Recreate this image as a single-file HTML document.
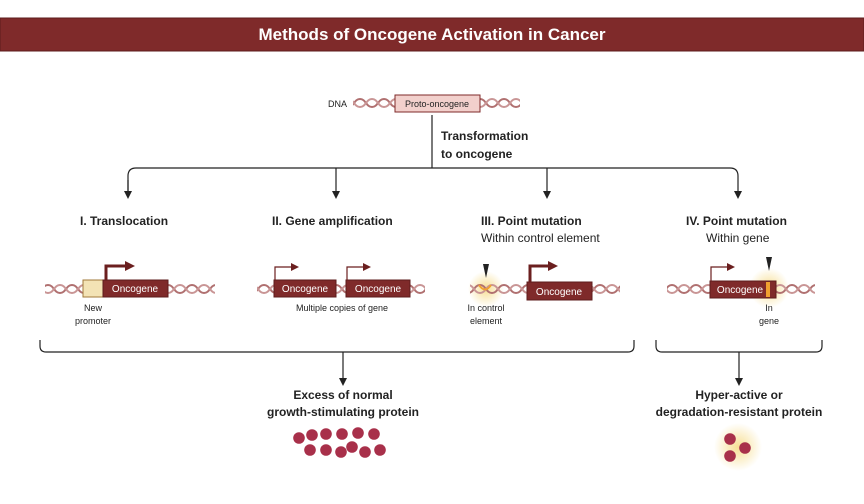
<!DOCTYPE html>
<html><head><meta charset="utf-8"><style>body{margin:0;background:#fff}svg{display:block}text{font-family:"Liberation Sans",sans-serif}</style></head><body>
<svg width="864" height="504" viewBox="0 0 864 504" xmlns="http://www.w3.org/2000/svg">
<defs>
<radialGradient id="g"><stop offset="0" stop-color="#f5d77a" stop-opacity=".8"/><stop offset="1" stop-color="#f5d77a" stop-opacity="0"/></radialGradient>
<marker id="a" markerWidth="8" markerHeight="8" refX="4" refY="4" orient="auto" markerUnits="userSpaceOnUse"><path d="M0,0L8,4L0,8z" fill="#222"/></marker>
<pattern id="dna" width="24" height="14" patternUnits="userSpaceOnUse" x="0" y="0">
<path d="M0,3 C6,3 6,11 12,11 C18,11 18,3 24,3" fill="none" stroke="#b07070" stroke-width="2"/>
<path d="M0,11 C6,11 6,3 12,3 C18,3 18,11 24,11" fill="none" stroke="#c99595" stroke-width="2"/>
</pattern>
</defs>
<rect x="0" y="18" width="864" height="33" fill="#7f2a2a" stroke="#5e1c1c"/>
<text x="432" y="40" text-anchor="middle" fill="#fff" font-size="17" font-weight="bold">Methods of Oncogene Activation in Cancer</text>

<text x="328" y="107" font-size="9" fill="#222">DNA</text>
<g transform="translate(0,96)"><rect x="353" y="0" width="167" height="14" fill="url(#dna)"/></g>
<rect x="395" y="95" width="85" height="17" fill="#f2d0cc" stroke="#7f2a2a"/>
<text x="437" y="107" text-anchor="middle" font-size="9" fill="#222">Proto-oncogene</text>

<g stroke="#222" stroke-width="1.2" fill="none">
<line x1="432" y1="115" x2="432" y2="168"/>
<path d="M128,195V176Q128,168 136,168H730Q738,168 738,176V195" marker-end="url(#a)"/>
<line x1="128" y1="180" x2="128" y2="195" marker-end="url(#a)"/>
<line x1="336" y1="168" x2="336" y2="195" marker-end="url(#a)"/>
<line x1="547" y1="168" x2="547" y2="195" marker-end="url(#a)"/>
<path d="M40,340V346Q40,352 46,352H628Q634,352 634,346V340"/>
<line x1="343" y1="352" x2="343" y2="382" marker-end="url(#a)"/>
<path d="M656,340V346Q656,352 662,352H816Q822,352 822,346V340"/>
<line x1="739" y1="352" x2="739" y2="382" marker-end="url(#a)"/>
</g>
<text x="441" y="140" font-size="12" font-weight="bold" fill="#222">Transformation</text>
<text x="441" y="158" font-size="12" font-weight="bold" fill="#222">to oncogene</text>

<g font-size="12" fill="#222">
<text x="80" y="225" font-weight="bold">I.  Translocation</text>
<text x="272" y="225" font-weight="bold">II.  Gene amplification</text>
<text x="481" y="225" font-weight="bold">III.  Point mutation</text>
<text x="481" y="242">Within control element</text>
<text x="686" y="225" font-weight="bold">IV.  Point mutation</text>
<text x="706" y="242">Within gene</text>
</g>

<circle cx="486" cy="289" r="18" fill="url(#g)"/>
<circle cx="769" cy="288" r="20" fill="url(#g)"/>
<circle cx="738" cy="447" r="24" fill="url(#g)"/>

<g transform="translate(0,282)"><rect x="45" y="0" width="170" height="14" fill="url(#dna)"/><rect x="257" y="0" width="168" height="14" fill="url(#dna)"/><rect x="470" y="1" width="150" height="14" fill="url(#dna)"/><rect x="667" y="0" width="148" height="14" fill="url(#dna)"/></g>
<path d="M479,285 Q485,294 491,285" stroke="#f0a030" stroke-width="2" fill="none"/>

<g fill="#7f2a2a" stroke="#5e1c1c">
<rect x="83" y="280" width="20" height="17" fill="#f3e3b5" stroke="#a07a3a"/>
<rect x="103" y="280" width="65" height="17"/>
<rect x="274" y="280" width="62" height="17"/>
<rect x="346" y="280" width="64" height="17"/>
<rect x="527" y="282" width="65" height="18"/>
<rect x="710" y="281" width="66" height="17"/>
</g>
<rect x="766" y="282" width="4" height="15" fill="#f0a030"/>
<g fill="#fff" font-size="10" text-anchor="middle">
<text x="135" y="292">Oncogene</text><text x="305" y="292">Oncogene</text><text x="378" y="292">Oncogene</text><text x="559" y="295">Oncogene</text><text x="740" y="293">Oncogene</text>
</g>
<g fill="none" stroke="#6b1f1f">
<path d="M106,280V266H126" stroke-width="3"/><path d="M530,282V266H549" stroke-width="3"/>
<path d="M275,280V267H292" stroke-width="1.2"/><path d="M347,280V267H364" stroke-width="1.2"/><path d="M711,281V267H728" stroke-width="1.2"/>
</g>
<g fill="#6b1f1f"><path d="M125,261L135,266L125,271z"/><path d="M548,261L558,266L548,271z"/><path d="M291,263L299,267L291,271z"/><path d="M363,263L371,267L363,271z"/><path d="M727,263L735,267L727,271z"/></g>
<path d="M483,264L489,264L486,278z" fill="#222"/><path d="M766,257L772,257L769,271z" fill="#222"/>

<g font-size="9" fill="#222" text-anchor="middle">
<text x="93" y="311">New</text><text x="93" y="324">promoter</text>
<text x="342" y="311">Multiple copies of gene</text>
<text x="486" y="311">In control</text><text x="486" y="324">element</text>
<text x="769" y="311">In</text><text x="769" y="324">gene</text>
</g>

<g font-size="12" font-weight="bold" fill="#222" text-anchor="middle">
<text x="343" y="399">Excess of normal</text><text x="343" y="416">growth-stimulating protein</text>
<text x="739" y="399">Hyper-active or</text><text x="739" y="416">degradation-resistant protein</text>
</g>
<g fill="#a8304a">
<circle cx="299" cy="438" r="5.8"/><circle cx="312" cy="435" r="5.8"/><circle cx="326" cy="434" r="5.8"/><circle cx="342" cy="434" r="5.8"/><circle cx="358" cy="433" r="5.8"/><circle cx="374" cy="434" r="5.8"/>
<circle cx="310" cy="450" r="5.8"/><circle cx="326" cy="450" r="5.8"/><circle cx="341" cy="452" r="5.8"/><circle cx="352" cy="447" r="5.8"/><circle cx="365" cy="452" r="5.8"/><circle cx="380" cy="450" r="5.8"/>
<circle cx="730" cy="439" r="5.8"/><circle cx="745" cy="448" r="5.8"/><circle cx="730" cy="456" r="5.8"/>
</g>
</svg>
</body></html>
